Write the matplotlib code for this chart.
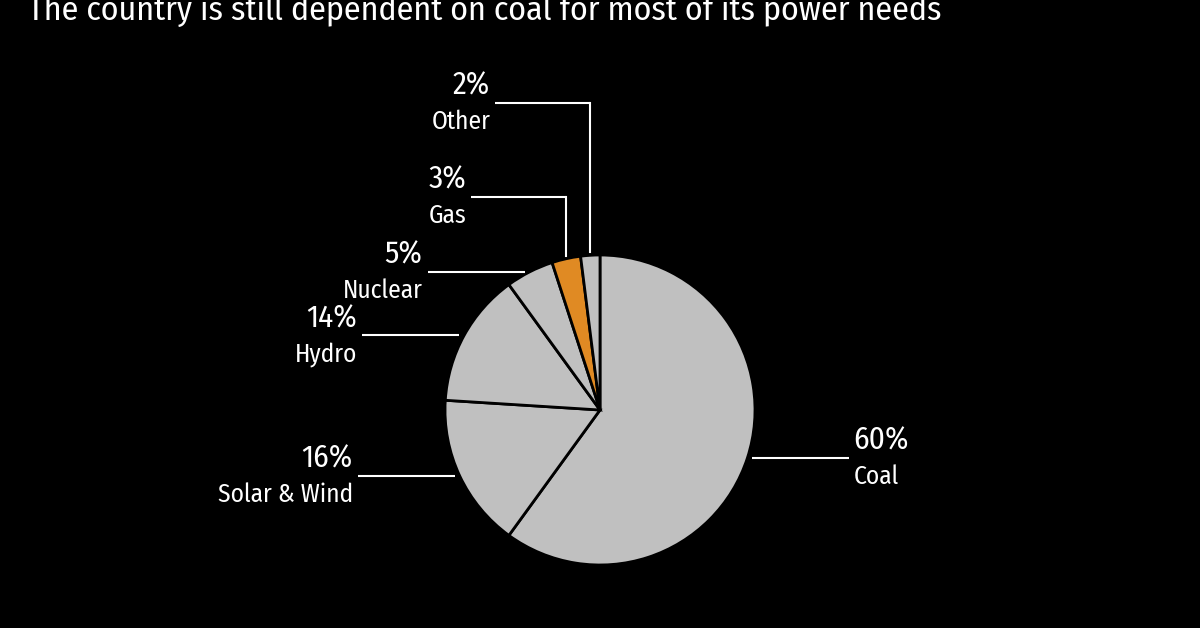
import numpy as np
import matplotlib
matplotlib.use("Agg")
import matplotlib.pyplot as plt

# --- data ---
labels = ["Coal", "Solar & Wind", "Hydro", "Nuclear", "Gas", "Other"]
shares = [60, 16, 14, 5, 3, 2]
colors = ["#c0c0c0", "#c0c0c0", "#c0c0c0", "#c0c0c0", "#e08a23", "#c0c0c0"]

TITLE = "The country is still dependent on coal for most of its power needs"
FONT = ["Fira Sans Condensed", "Roboto Condensed", "PT Sans Narrow", "DejaVu Sans"]

W, H = 1200, 628
fig = plt.figure(figsize=(12, 6.28), dpi=100, facecolor="black")
ax = fig.add_axes([0, 0, 1, 1])
ax.set_facecolor("black")

cx, cy, r = 600, H - 410, 155
wedges, _ = ax.pie(shares, colors=colors, startangle=90, counterclock=False,
                   center=(cx, cy), radius=r, frame=True,
                   wedgeprops=dict(edgecolor="black", linewidth=2))
ax.set_xlim(0, W)
ax.set_ylim(0, H)
ax.set_aspect("equal")
ax.axis("off")

# label layout: side, y of leader line (pixels from top) for elbowed labels
layout = {
    "Coal": ("right", None),
    "Solar & Wind": ("left", None),
    "Hydro": ("left", None),
    "Nuclear": ("left", None),
    "Gas": ("left", 197),
    "Other": ("left", 103),
}
seg = 97
gap = 5
lw = 1.5
for w, lab, val in zip(wedges, labels, shares):
    mid = np.deg2rad((w.theta1 + w.theta2) / 2)
    px, py = cx + r * np.cos(mid), cy + r * np.sin(mid)
    side, ytop = layout[lab]
    if ytop is not None:
        ly = H - ytop
        ax.plot([px, px], [py + 3, ly], color="white", lw=lw)
        x0, x1 = px - seg + 2, px
    else:
        ly = py
        if side == "left":
            x1 = px - gap
            x0 = x1 - seg
        else:
            x0 = px + gap
            x1 = x0 + seg
    ax.plot([x0, x1], [ly, ly], color="white", lw=lw, solid_capstyle="butt")
    if side == "left":
        tx, ha = x0 - 5, "right"
    else:
        tx, ha = x1 + 4, "left"
    ax.text(tx, ly + 17, f"{val}%", color="white", fontsize=22.5, family=FONT,
            ha=ha, va="center")
    ax.text(tx, ly - 19, lab, color="white", fontsize=18.3, family=FONT,
            ha=ha, va="center")

ax.text(28, H - 20, TITLE, color="white", fontsize=24.4, family=FONT,
        ha="left", va="baseline")

fig.savefig("out.png", dpi=100, facecolor="black")
